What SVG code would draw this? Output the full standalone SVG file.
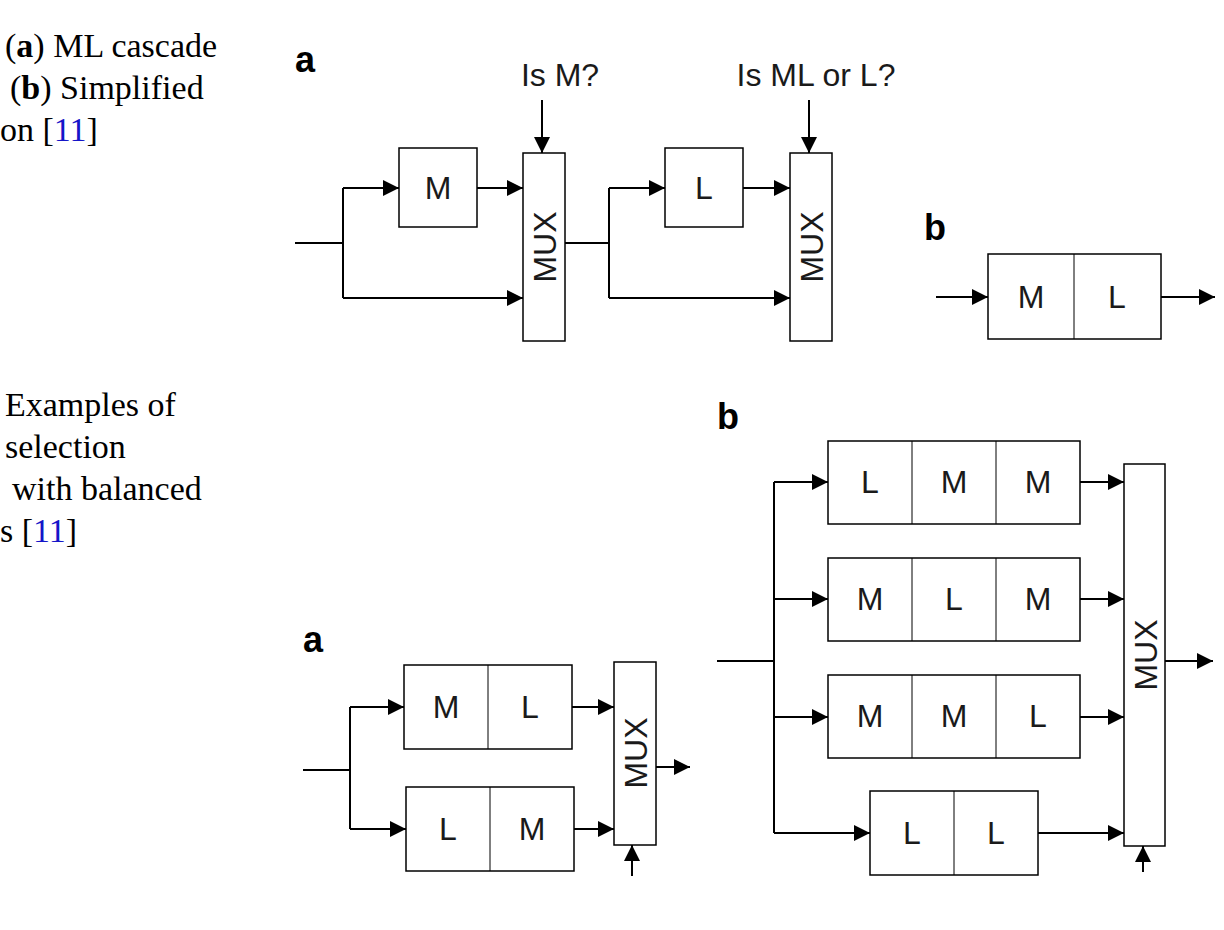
<svg xmlns="http://www.w3.org/2000/svg" width="1224" height="930" viewBox="0 0 1224 930">
<defs>
<marker id="ah" viewBox="0 0 10 10" refX="10" refY="5" markerWidth="16" markerHeight="16" markerUnits="userSpaceOnUse" orient="auto"><path d="M0,0 L10,5 L0,10 z" fill="#000"/></marker>
<style>
.cap{font-family:"Liberation Serif",serif;font-size:34px;fill:#000}
.box{fill:#fff;stroke:#000;stroke-width:1.5}
.t{font-family:"Liberation Sans",Arial,sans-serif;font-size:32px;fill:#1a1a1a;text-anchor:middle}
.lab{font-family:"Liberation Sans",Arial,sans-serif;font-size:36px;font-weight:bold;fill:#000}
.c line,.c path{stroke:#000;stroke-width:2;fill:none}
.ar{marker-end:url(#ah)}
</style>
</defs>
<rect width="1224" height="930" fill="#fff"/>
<g id="captions">
<text class="cap" x="5" y="57">(<tspan font-weight="bold">a</tspan>) ML cascade</text>
<text class="cap" x="10" y="99">(<tspan font-weight="bold">b</tspan>) Simplified</text>
<text class="cap" x="0" y="141">on [<tspan fill="#1515c8">11</tspan>]</text>
<text class="cap" x="5" y="416">Examples of</text>
<text class="cap" x="5" y="458">selection</text>
<text class="cap" x="12" y="500">with balanced</text>
<text class="cap" x="0" y="542">s [<tspan fill="#1515c8">11</tspan>]</text>
</g>
<g id="labels">
<text class="lab" x="295" y="72">a</text>
<text class="lab" x="924" y="240">b</text>
<text class="lab" x="303" y="652">a</text>
<text class="lab" x="717" y="429">b</text>
<text class="t" x="560" y="86">Is M?</text>
<text class="t" x="816" y="86">Is ML or L?</text>
</g>
<g class="c" id="connectors">
<line x1="295" y1="243" x2="343" y2="243"/>
<line x1="343" y1="188" x2="343" y2="298"/>
<line class="ar" x1="343" y1="188" x2="399" y2="188"/>
<line class="ar" x1="477" y1="188" x2="523" y2="188"/>
<line class="ar" x1="343" y1="298" x2="523" y2="298"/>
<line class="ar" x1="542" y1="100" x2="542" y2="153"/>
<line x1="565" y1="243" x2="609" y2="243"/>
<line x1="609" y1="188" x2="609" y2="298"/>
<line class="ar" x1="609" y1="188" x2="665" y2="188"/>
<line class="ar" x1="743" y1="188" x2="790" y2="188"/>
<line class="ar" x1="609" y1="298" x2="790" y2="298"/>
<line class="ar" x1="809" y1="100" x2="809" y2="153"/>
<line class="ar" x1="936" y1="297" x2="988" y2="297"/>
<line class="ar" x1="1161" y1="297" x2="1215" y2="297"/>
<line x1="303" y1="770" x2="350" y2="770"/>
<line x1="350" y1="707" x2="350" y2="829"/>
<line class="ar" x1="350" y1="707" x2="404" y2="707"/>
<line class="ar" x1="572" y1="707" x2="614" y2="707"/>
<line class="ar" x1="350" y1="829" x2="406" y2="829"/>
<line class="ar" x1="574" y1="829" x2="614" y2="829"/>
<line class="ar" x1="656" y1="767" x2="690" y2="767"/>
<line class="ar" x1="632" y1="876" x2="632" y2="845"/>
<line x1="717" y1="661" x2="774" y2="661"/>
<line x1="774" y1="482" x2="774" y2="833"/>
<line class="ar" x1="774" y1="482" x2="828" y2="482"/>
<line class="ar" x1="774" y1="599" x2="828" y2="599"/>
<line class="ar" x1="774" y1="717" x2="828" y2="717"/>
<line class="ar" x1="774" y1="833" x2="870" y2="833"/>
<line class="ar" x1="1080" y1="482" x2="1124" y2="482"/>
<line class="ar" x1="1080" y1="599" x2="1124" y2="599"/>
<line class="ar" x1="1080" y1="717" x2="1124" y2="717"/>
<line class="ar" x1="1038" y1="833" x2="1124" y2="833"/>
<line class="ar" x1="1165" y1="661" x2="1213" y2="661"/>
<line class="ar" x1="1143" y1="872" x2="1143" y2="846"/>
</g>
<g id="topM"><rect class="box" x="399" y="148" width="78" height="79"/><text class="t" x="438" y="199">M</text></g>
<g id="topL"><rect class="box" x="665" y="148" width="78" height="79"/><text class="t" x="704" y="199">L</text></g>
<g id="mux1"><rect class="box" x="523" y="153" width="42" height="188"/><text class="t" transform="translate(556,247) rotate(-90)">MUX</text></g>
<g id="mux2"><rect class="box" x="790" y="153" width="42" height="188"/><text class="t" transform="translate(823,247) rotate(-90)">MUX</text></g>
<g id="topML"><rect class="box" x="988" y="254" width="173" height="85"/><line x1="1074" y1="254" x2="1074" y2="339" stroke="#000" stroke-width="1"/><text class="t" x="1031" y="308">M</text><text class="t" x="1117" y="308">L</text></g>
<g id="aML"><rect class="box" x="404" y="665" width="168" height="84"/><line x1="488" y1="665" x2="488" y2="749" stroke="#000" stroke-width="1"/><text class="t" x="446" y="718">M</text><text class="t" x="530" y="718">L</text></g>
<g id="aLM"><rect class="box" x="406" y="787" width="168" height="84"/><line x1="490" y1="787" x2="490" y2="871" stroke="#000" stroke-width="1"/><text class="t" x="448" y="840">L</text><text class="t" x="532" y="840">M</text></g>
<g id="amux"><rect class="box" x="614" y="662" width="42" height="183"/><text class="t" transform="translate(647,753) rotate(-90)">MUX</text></g>
<g id="bLMM"><rect class="box" x="828" y="441" width="252" height="83"/><line x1="912" y1="441" x2="912" y2="524" stroke="#000" stroke-width="1"/><line x1="996" y1="441" x2="996" y2="524" stroke="#000" stroke-width="1"/><text class="t" x="870" y="493">L</text><text class="t" x="954" y="493">M</text><text class="t" x="1038" y="493">M</text></g>
<g id="bMLM"><rect class="box" x="828" y="558" width="252" height="83"/><line x1="912" y1="558" x2="912" y2="641" stroke="#000" stroke-width="1"/><line x1="996" y1="558" x2="996" y2="641" stroke="#000" stroke-width="1"/><text class="t" x="870" y="610">M</text><text class="t" x="954" y="610">L</text><text class="t" x="1038" y="610">M</text></g>
<g id="bMML"><rect class="box" x="828" y="675" width="252" height="83"/><line x1="912" y1="675" x2="912" y2="758" stroke="#000" stroke-width="1"/><line x1="996" y1="675" x2="996" y2="758" stroke="#000" stroke-width="1"/><text class="t" x="870" y="727">M</text><text class="t" x="954" y="727">M</text><text class="t" x="1038" y="727">L</text></g>
<g id="bLL"><rect class="box" x="870" y="791" width="168" height="84"/><line x1="954" y1="791" x2="954" y2="875" stroke="#000" stroke-width="1"/><text class="t" x="912" y="844">L</text><text class="t" x="996" y="844">L</text></g>
<g id="bmux"><rect class="box" x="1124" y="464" width="41" height="382"/><text class="t" transform="translate(1157,655) rotate(-90)">MUX</text></g>
</svg>
